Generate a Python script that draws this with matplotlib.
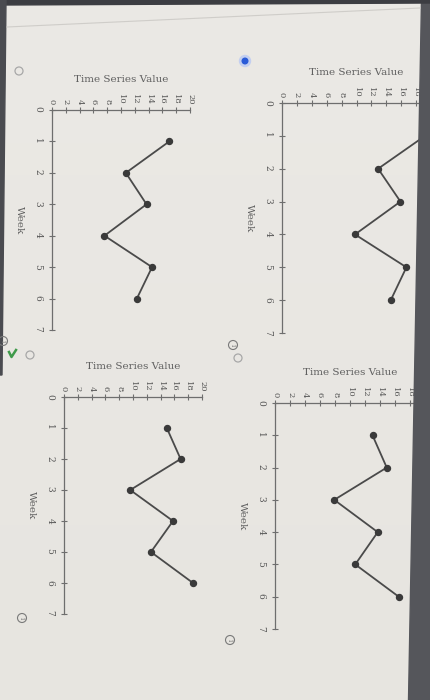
import matplotlib
matplotlib.use("Agg")
import matplotlib.pyplot as plt
import numpy as np
from matplotlib.patches import Circle, Polygon

# values (four answer options, rotated charts)
weeks = [1, 2, 3, 4, 5, 6]
option_a = [17.0, 10.7, 13.7, 7.6, 14.5, 12.3]   # top left
option_b = [19.2, 12.9, 15.9, 9.8, 16.7, 14.6]   # top right (selected)
option_c = [14.9, 16.9, 9.6, 15.8, 12.6, 18.7]   # bottom left
option_d = [13.0, 14.9, 7.9, 13.7, 10.7, 16.5]   # bottom right
value_ticks = list(range(0, 21, 2))
week_ticks = list(range(0, 8))

W, H = 430, 700
plt.rcParams['font.family'] = ['DejaVu Serif']

fig = plt.figure(figsize=(W / 100, H / 100), dpi=100)

# background (photo of a screen)
bg = fig.add_axes([0, 0, 1, 1], zorder=-10)
grad = np.linspace(0, 1, 200).reshape(-1, 1)
bg.imshow(grad, extent=[0, W, H, 0], aspect='auto',
          cmap=matplotlib.colors.LinearSegmentedColormap.from_list('bg', ['#ebe9e5', '#e7e5e0']))
bg.set_xlim(0, W)
bg.set_ylim(H, 0)
bg.axis('off')


def px_axes(left, right, top, bottom):
    return fig.add_axes([left / W, 1 - bottom / H, (right - left) / W, (bottom - top) / H])


def rotated_chart(ax, values, ticks=value_ticks):
    ax.set_facecolor('none')
    ax.plot(values, weeks, color='#4a4a4a', lw=1.3, marker='o', ms=4.3,
            mfc='#3a3a3a', mec='#3a3a3a', clip_on=False)
    ax.set_xlim(0, 20)
    ax.set_ylim(7, 0)
    ax.xaxis.set_ticks_position('top')
    ax.xaxis.set_label_position('top')
    ax.set_xticks(ticks)
    ax.set_yticks(week_ticks)
    for s in ['right', 'bottom']:
        ax.spines[s].set_visible(False)
    for s in ['left', 'top']:
        ax.spines[s].set_color('#6e6e6e')
        ax.spines[s].set_linewidth(0.9)
    ax.tick_params(axis='both', direction='inout', length=4, width=0.8,
                   color='#6e6e6e', labelcolor='#555555', labelsize=6)
    ax.tick_params(axis='x', labelrotation=-90, pad=2)
    ax.tick_params(axis='y', labelrotation=-90, pad=5, labelsize=6.5)
    ax.set_xlabel('Time Series Value', fontsize=7.5, color='#606060', labelpad=8)
    ax.set_ylabel('Week', fontsize=7.5, color='#606060', rotation=-90,
                  labelpad=10, va='center')


ax1 = px_axes(52, 190, 110, 330)
rotated_chart(ax1, option_a)
ax2 = px_axes(282, 431, 103, 333)
# the 20 tick of this option sits under the screen edge
rotated_chart(ax2, option_b, value_ticks[:-1])
ax3 = px_axes(64, 202, 397, 614)
rotated_chart(ax3, option_c)
ax4 = px_axes(275, 425, 403, 629)
rotated_chart(ax4, option_d, value_ticks[:-1])

# overlay: screen edges, radio buttons, icons
top = fig.add_axes([0, 0, 1, 1], zorder=5)
top.set_facecolor('none')
top.set_xlim(0, W)
top.set_ylim(H, 0)
top.axis('off')

top.add_patch(Polygon([(421, 0), (430, 0), (430, 700), (408, 700)], color='#55565b'))
top.add_patch(Polygon([(0, 0), (430, 0), (430, 3), (0, 5)], color='#3c3d42'))
top.add_patch(Polygon([(0, 0), (6, 0), (2, 375), (0, 375)], color='#4a4b50'))
top.plot([7, 420], [27, 8], color='#cfcdc9', lw=0.8)

for x, y in [(19, 71), (30, 355), (238, 358)]:
    top.add_patch(Circle((x, y), 4, fill=False, ec='#a8a8a8', lw=0.9))

top.add_patch(Circle((245, 61), 5.5, color='#c3cff0'))
top.add_patch(Circle((245, 61), 2.8, color='#2a5bd7'))

for x, y in [(3, 341), (233, 345), (22, 618), (230, 640)]:
    top.add_patch(Circle((x, y), 4.5, fill=False, ec='#7a7a7a', lw=0.8))
    top.text(x, y, 'i', fontsize=5, color='#7a7a7a', rotation=-90,
             ha='center', va='center')

top.plot([9, 11.5, 16], [352, 357, 350], color='#3f9a4a', lw=1.8)

fig.savefig('out.png', dpi=100)
